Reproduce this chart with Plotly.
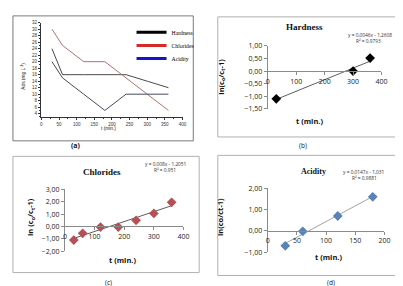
import plotly.graph_objects as go

W, H = 403, 286

# ---------------- data ----------------
t_ads = [30, 60, 120, 180, 240, 300, 360]
ads_hardness = [24, 16, 16, 16, 16, 14, 12]
ads_chlorides = [30, 25, 20, 20, 15, 10, 5]
ads_acidity = [20, 15, 10, 5, 10, 10, 10]

t_hard = [30, 300, 360]
ln_hard = [-1.10, 0.00, 0.52]
fit_hard = (0.0046, -1.2608)

t_chl = [30, 60, 120, 180, 240, 300, 360]
ln_chl = [-1.10, -0.55, -0.05, -0.05, 0.50, 1.05, 1.95]
fit_chl = (0.008, -1.2051)

t_acid = [30, 60, 120, 180]
ln_acid = [-0.70, -0.02, 0.70, 1.60]
fit_acid = (0.0147, -1.031)


def fx(px):
    return px / W


def fy(py):
    return 1 - py / H


fig = go.Figure()

# ---------------- panel (a) ----------------
fig.add_trace(go.Scatter(x=t_ads, y=ads_hardness, mode="lines", line=dict(color="#4a4a4a", width=1),
                         xaxis="x", yaxis="y", showlegend=False))
fig.add_trace(go.Scatter(x=t_ads, y=ads_chlorides, mode="lines", line=dict(color="#b07272", width=1),
                         xaxis="x", yaxis="y", showlegend=False))
fig.add_trace(go.Scatter(x=t_ads, y=ads_acidity, mode="lines", line=dict(color="#474a5c", width=1),
                         xaxis="x", yaxis="y", showlegend=False))
# legend entries
leg_names = ["Hardness", "Chlorides", "Acidity"]
leg_cols = ["#000000", "#d42a2a", "#1414c8"]
leg_ids = ["legend", "legend2", "legend3"]
for n, c, l in zip(leg_names, leg_cols, leg_ids):
    fig.add_trace(go.Scatter(x=[None], y=[None], mode="lines", name=n, line=dict(color=c, width=3),
                             xaxis="x", yaxis="y", legend=l, showlegend=True))

# ---------------- panel (b) ----------------
fig.add_trace(go.Scatter(x=[t_hard[0], t_hard[-1]],
                         y=[fit_hard[0] * t_hard[0] + fit_hard[1], fit_hard[0] * t_hard[-1] + fit_hard[1]],
                         mode="lines", line=dict(color="#333333", width=0.8), xaxis="x2", yaxis="y2", showlegend=False))
fig.add_trace(go.Scatter(x=t_hard, y=ln_hard, mode="markers",
                         marker=dict(symbol="diamond", size=7.5, color="#000000"),
                         xaxis="x2", yaxis="y2", showlegend=False))

# ---------------- panel (c) ----------------
fig.add_trace(go.Scatter(x=[t_chl[0], t_chl[-1]],
                         y=[fit_chl[0] * t_chl[0] + fit_chl[1], fit_chl[0] * t_chl[-1] + fit_chl[1]],
                         mode="lines", line=dict(color="#333333", width=0.8), xaxis="x3", yaxis="y3", showlegend=False))
fig.add_trace(go.Scatter(x=t_chl, y=ln_chl, mode="markers",
                         marker=dict(symbol="diamond", size=7.5, color="#b84f55"),
                         xaxis="x3", yaxis="y3", showlegend=False))

# ---------------- panel (d) ----------------
fig.add_trace(go.Scatter(x=[t_acid[0], t_acid[-1]],
                         y=[fit_acid[0] * t_acid[0] + fit_acid[1], fit_acid[0] * t_acid[-1] + fit_acid[1]],
                         mode="lines", line=dict(color="#8c8c8c", width=0.8), xaxis="x4", yaxis="y4", showlegend=False))
fig.add_trace(go.Scatter(x=t_acid, y=ln_acid, mode="markers",
                         marker=dict(symbol="diamond", size=7.5, color="#5a82b4"),
                         xaxis="x4", yaxis="y4", showlegend=False))

tick_font = dict(family="Open Sans, sans-serif", size=7, color="#222")
tiny_font = dict(family="Liberation Sans, sans-serif", size=4.5, color="#333")

# domains / ranges
dom = {
    "a": dict(x=[fx(32), fx(176)], y=[fy(107.3), fy(10)], xr=[0, 400], yr=[3, 32]),
    "b": dict(x=[fx(263), fx(379)], y=[fy(99), fy(34)], xr=[0, 400], yr=[-1.5, 1.0]),
    "c": dict(x=[fx(56), fx(177)], y=[fy(246), fy(182)], xr=[0, 400], yr=[-2, 3]),
    "d": dict(x=[fx(263), fx(382)], y=[fy(247), fy(181)], xr=[0, 200], yr=[-1, 2]),
}


def zero_pos(d):
    y0, y1 = d["y"]
    lo, hi = d["yr"]
    return y0 + (0 - lo) / (hi - lo) * (y1 - y0)


layout = dict(
    width=W, height=H, margin=dict(l=0, r=0, t=0, b=0),
    paper_bgcolor="white", plot_bgcolor="rgba(0,0,0,0)",
    separators=", ",
    showlegend=True,
)

# panel (a) axes (Origin style)
layout["xaxis"] = dict(domain=dom["a"]["x"], range=dom["a"]["xr"], anchor="y", dtick=50, tick0=0,
                       showgrid=False, zeroline=False, showline=True, linecolor="#333", linewidth=0.8,
                       ticks="outside", ticklen=2.5, tickwidth=0.6, tickcolor="#333", tickfont=tiny_font,
                       minor=dict(ticks="outside", ticklen=1.5, tickwidth=0.5, tickcolor="#333", dtick=25))
layout["yaxis"] = dict(domain=dom["a"]["y"], range=dom["a"]["yr"], anchor="x", dtick=2, tick0=0,
                       showgrid=False, zeroline=False, showline=True, linecolor="#333", linewidth=0.8,
                       ticks="outside", ticklen=2.5, tickwidth=0.6, tickcolor="#333", tickfont=tiny_font,
                       minor=dict(ticks="outside", ticklen=1.5, tickwidth=0.5, tickcolor="#333", dtick=1))

# Excel-style panels
for i, key, dt in [(2, "b", 100), (3, "c", 100), (4, "d", 50)]:
    d = dom[key]
    layout[f"xaxis{i}"] = dict(domain=d["x"], range=d["xr"], anchor="free",
                               position=zero_pos(d), dtick=dt, tick0=0,
                               showgrid=False, zeroline=False, showline=True, linecolor="#8a8a8a",
                               linewidth=1, ticks="outside", ticklen=3, tickcolor="#8a8a8a",
                               tickfont=tick_font)
    layout[f"yaxis{i}"] = dict(domain=d["y"], range=d["yr"], anchor=f"x{i}", dtick=0.5 if key == "b" else 1,
                               tickformat=".2f", showgrid=False, zeroline=False, showline=True,
                               linecolor="#8a8a8a", linewidth=1, ticks="outside", ticklen=3,
                               tickcolor="#8a8a8a", tickfont=tick_font)

# legends for panel (a)
for l, py in zip(leg_ids, [20, 33.5, 47]):
    layout[l] = dict(x=fx(124), y=fy(py), xanchor="left", yanchor="middle", bgcolor="rgba(0,0,0,0)",
                     borderwidth=0, font=dict(family="Liberation Serif, serif", size=5.7, color="#000"),
                     itemwidth=30, tracegroupgap=0)

fig.update_layout(**layout)

# frames
frame_specs = [((3, 3), (187, 132), "#7a7a7a"),
               ((212, 4), (397, 128), "#b0b0b0"),
               ((3, 148), (193, 268), "#b0b0b0"),
               ((212, 147), (397, 271), "#b0b0b0")]
for (x0, y0), (x1, y1), col in frame_specs:
    fig.add_shape(type="rect", xref="paper", yref="paper", x0=fx(x0), y0=fy(y0), x1=fx(x1), y1=fy(y1),
                  line=dict(color=col, width=1), fillcolor="rgba(0,0,0,0)", layer="below")

sans = "Open Sans, sans-serif"
serif = "Liberation Serif, serif"


def ann(text, px, py, size, family=sans, bold=False, angle=0, color="#111"):
    if bold:
        text = f"<b>{text}</b>"
    fig.add_annotation(text=text, x=fx(px), y=fy(py), xref="paper", yref="paper", showarrow=False,
                       xanchor="center", yanchor="middle", textangle=angle,
                       font=dict(family=family, size=size, color=color))


# panel (a) text
ann("Ads (mg L<sup>-1</sup>)", 13, 65, 4.8, family="Liberation Sans, sans-serif", angle=-90)
ann("t (min.)", 100, 119, 4.8, family="Liberation Sans, sans-serif")
ann("(a)", 67, 137, 7, bold=True)

# panel (b) text
ann("Hardness", 300, 14, 9, family=serif, bold=True)
ann("y = 0,0046x - 1,2608", 367, 23, 4.8, color="#333")
ann("R² = 0,9793", 366, 29, 4.8, color="#333")
ann("ln(c<sub>o</sub>/c<sub>t</sub>-1)", 216, 66, 7.5, bold=True, angle=-90)
ann("t (min.)", 306, 112, 7.5, bold=True)
ann("(b)", 299, 137, 6.5)

# panel (c) text
ann("Chlorides", 94, 164, 9, family=serif, bold=True)
ann("y = 0,008x - 1,2051", 159, 156, 4.8, color="#333")
ann("R² = 0,951", 158, 162, 4.8, color="#333")
ann("ln (c<sub>o</sub>/c<sub>t</sub>-1)", 22, 211, 7.5, bold=True, angle=-90)
ann("t (min.)", 115, 255, 7.5, bold=True)
ann("(c)", 100, 278, 6.5)

# panel (d) text
ann("Acidity", 310, 164, 8, family=serif, bold=True)
ann("y = 0,0147x - 1,031", 361, 164, 4.8, color="#333")
ann("R² = 0,9881", 362, 170, 4.8, color="#333")
ann("ln(co/ct-1)", 215, 211, 7.5, bold=True, angle=-90)
ann("t (min.)", 325, 252, 7.5, bold=True)
ann("(d)", 328, 278, 6.5)

fig.write_html("out.html")
